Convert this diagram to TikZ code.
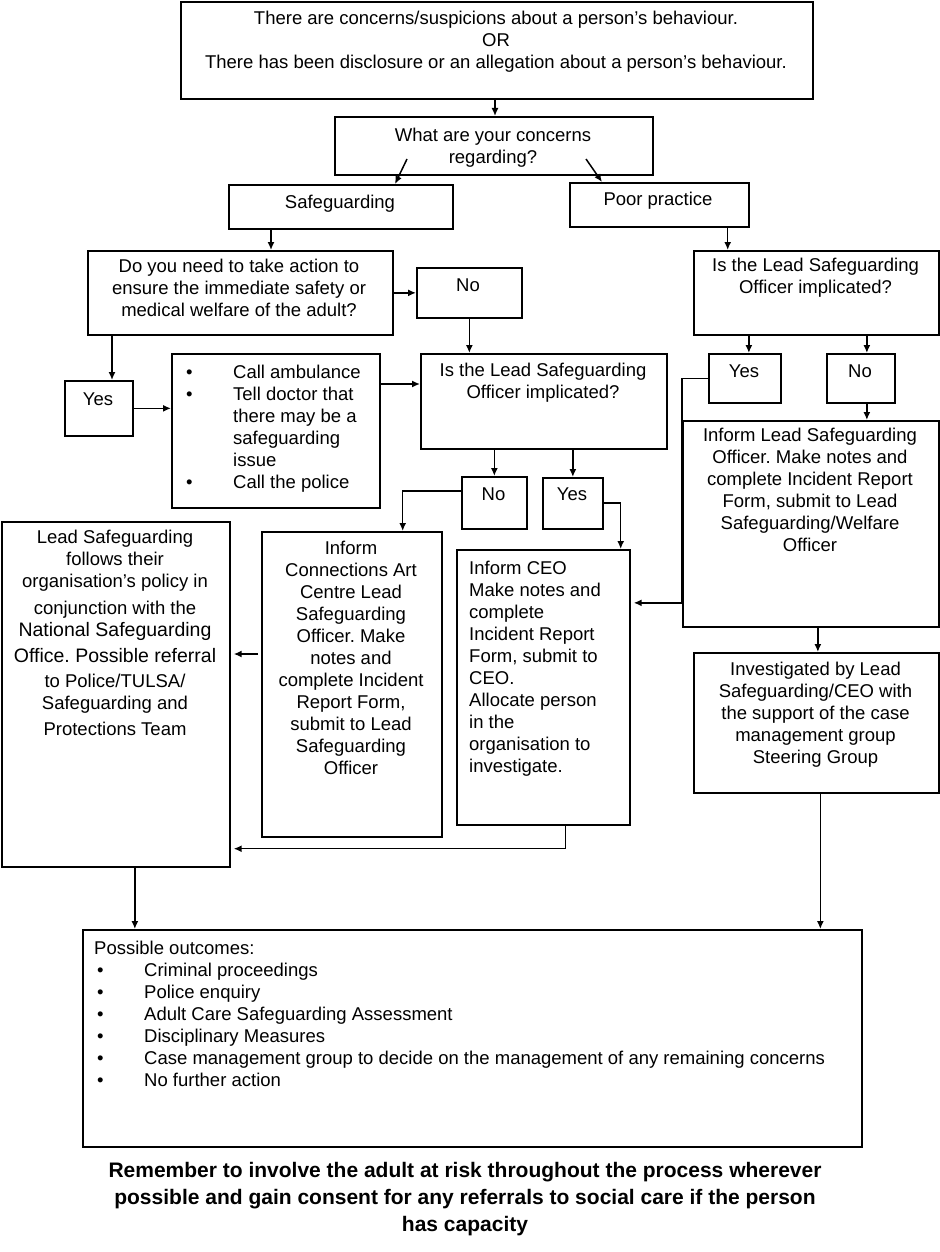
\documentclass[tikz,border=0pt]{standalone}
\usepackage{fontspec}
\setmainfont{Liberation Sans}
\usetikzlibrary{arrows,arrows.meta,positioning}
\frenchspacing

\begin{document}
\begin{tikzpicture}[x=1pt, y=-1pt]
		\tikzstyle{box} = [rectangle, draw, line width=1.7pt, anchor=north west, inner sep=0pt]
		\tikzstyle{txt} = [anchor=north, align=center, inner sep=0pt, font=\fontsize{18.5}{22}\selectfont]
		\tikzstyle{ltxt} = [anchor=north west, align=left, inner sep=0pt, font=\fontsize{18.5}{22}\selectfont]
		\tikzstyle{flow} = [-{Latex[length=8pt,width=7pt]}, line width=1.5pt]
		\newcommand{\bul}{\makebox[47pt][l]{\textbullet}}

		\useasboundingbox (0,0) rectangle (939,1252);

		% Concerns
		\node (start) [box, minimum width=632pt, minimum height=97pt] at (180,1) {};
		\node (startT) [txt] at (496,11) {There are concerns/suspicions about a person’s behaviour.\\OR\\There has been disclosure or an allegation about a person’s behaviour.};
		\node (concern) [box, minimum width=318pt, minimum height=58pt] at (334,116) {};
		\node (concernT) [txt] at (493,128) {What are your concerns\\regarding?};
		\node (safeg) [box, minimum width=224pt, minimum height=44pt] at (228,184) {};
		\node (safegT) [txt] at (340,195) {Safeguarding};
		\node (poor) [box, minimum width=179pt, minimum height=44pt] at (569,182) {};
		\node (poorT) [txt] at (658,192) {Poor practice};

		% Safeguarding branch
		\node (action) [box, minimum width=305pt, minimum height=84pt] at (87,250) {};
		\node (actionT) [txt] at (239,259) {Do you need to take action to\\ensure the immediate safety or\\medical welfare of the adult?};
		\node (noA) [box, minimum width=105pt, minimum height=50pt] at (416,267) {};
		\node (noAT) [txt] at (468,279) {No};
		\node (yesA) [box, minimum width=68pt, minimum height=55pt] at (64,380) {};
		\node (yesAT) [txt] at (98,393) {Yes};
		\node (calls) [box, minimum width=208pt, minimum height=154pt] at (171,353) {};
		\node (callsT) [ltxt] at (186,365) {\bul Call ambulance\\\bul Tell doctor that\\\hspace*{47pt}there may be a\\\hspace*{47pt}safeguarding\\\hspace*{47pt}issue\\\bul Call the police};
		\node (lsoM) [box, minimum width=246pt, minimum height=95pt] at (420,353) {};
		\node (lsoMT) [txt] at (543,363) {Is the Lead Safeguarding\\Officer implicated?};
		\node (noB) [box, minimum width=65pt, minimum height=52pt] at (461,476) {};
		\node (noBT) [txt] at (493.5,488) {No};
		\node (yesB) [box, minimum width=60pt, minimum height=51pt] at (542,477) {};
		\node (yesBT) [txt] at (572,488) {Yes};
		\node (lead) [box, minimum width=228pt, minimum height=345pt] at (1,521) {};
		\node (leadT) [txt] at (115,530) {Lead Safeguarding\\follows their\\organisation’s policy in\\[5pt]conjunction with the\\{\fontsize{19.5}{22}\selectfont National Safeguarding}\\[4pt]{\fontsize{19.5}{22}\selectfont Office. Possible referral}\\[3pt]to Police/TULSA/\\Safeguarding and\\[4pt]Protections Team};
		\node (conn) [box, minimum width=180pt, minimum height=305pt] at (261,531) {};
		\node (connT) [txt] at (351,541) {Inform\\Connections Art\\Centre Lead\\Safeguarding\\Officer. Make\\notes and\\complete Incident\\Report Form,\\submit to Lead\\Safeguarding\\Officer};
		\node (ceo) [box, minimum width=173pt, minimum height=275pt] at (456,549) {};
		\node (ceoT) [ltxt] at (469,561) {Inform CEO\\Make notes and\\complete\\Incident Report\\Form, submit to\\CEO.\\Allocate person\\in the\\organisation to\\investigate.};

		% Poor practice branch
		\node (lsoR) [box, minimum width=245pt, minimum height=84pt] at (693,250) {};
		\node (lsoRT) [txt] at (815.5,258) {Is the Lead Safeguarding\\Officer implicated?};
		\node (yesR) [box, minimum width=72pt, minimum height=49pt] at (708,353) {};
		\node (yesRT) [txt] at (744,365) {Yes};
		\node (noR) [box, minimum width=68pt, minimum height=49pt] at (826,353) {};
		\node (noRT) [txt] at (860,365) {No};
		\node (inform) [box, minimum width=256pt, minimum height=206pt] at (682,420) {};
		\node (informT) [txt] at (810,428) {Inform Lead Safeguarding\\Officer. Make notes and\\complete Incident Report\\Form, submit to Lead\\Safeguarding/Welfare\\Officer};
		\node (invest) [box, minimum width=245pt, minimum height=140pt] at (693,652) {};
		\node (investT) [txt] at (815.5,662) {Investigated by Lead\\Safeguarding/CEO with\\the support of the case\\management group\\Steering Group};

		% Outcomes
		\node (outc) [box, minimum width=779pt, minimum height=217pt] at (82,929) {};
		\node (outcT) [ltxt] at (94,941) {Possible outcomes:\\\hspace*{3pt}\makebox[47pt][l]{\textbullet}Criminal proceedings\\\hspace*{3pt}\makebox[47pt][l]{\textbullet}Police enquiry\\\hspace*{3pt}\makebox[47pt][l]{\textbullet}Adult Care Safeguarding Assessment\\\hspace*{3pt}\makebox[47pt][l]{\textbullet}Disciplinary Measures\\\hspace*{3pt}\makebox[47pt][l]{\textbullet}Case management group to decide on the management of any remaining concerns\\\hspace*{3pt}\makebox[47pt][l]{\textbullet}No further action};
		\node (remind) [anchor=north, align=center, inner sep=0pt, font=\bfseries\fontsize{21}{27}\selectfont] at (465,1162) {Remember to involve the adult at risk throughout the process wherever\\possible and gain consent for any referrals to social care if the person\\has capacity};

		% Connectors
		\coordinate (sT) at (495,0);
		\draw[flow] (start.south -| sT) -- (sT |- concern.north);
		\coordinate (cL) at (407,159);
		\coordinate (cR) at (586,159);
		\coordinate (sL) at (395,0);
		\coordinate (pL) at (602,0);
		\draw[flow] (cL) -- (sL |- safeg.north);
		\draw[flow] (cR) -- (pL |- poor.north);
		\draw[flow] ([xshift=43pt]safeg.south west) -- ([xshift=43pt]safeg.south west |- action.north);
		\draw[flow] ([xshift=-22pt]poor.south east) -- ([xshift=-22pt]poor.south east |- lsoR.north);
		\draw[flow] (action.east) -- (noA.west);
		\draw[flow] ([xshift=25pt]action.south west) -- ([xshift=25pt]action.south west |- yesA.north);
		\draw[flow] (yesA.east) -- (yesA.east -| calls.west);
		\draw[flow] (noA.south) -- (noA.south |- lsoM.north);
		\draw[flow] ([yshift=-31pt]calls.north east) -- ([yshift=-31pt]calls.north east -| lsoM.west);
		\draw[flow] (noB.north |- lsoM.south) -- (noB.north);
		\draw[flow] (yesB.north |- lsoM.south) -- (yesB.north);
		\draw[flow] ([yshift=-15pt]noB.north west) -| ([xshift=-40pt]conn.north east);
		\draw[flow] ([yshift=-26pt]yesB.north east) -| ([xshift=-10pt]ceo.north east);
		\draw[flow, shorten <=3pt, shorten >=3pt] ([yshift=-123pt]conn.north west) -- ([yshift=-123pt]conn.north west -| lead.east);
		\draw[flow, shorten >=3pt] ([xshift=-65pt]ceo.south east) |- ([yshift=19pt]lead.south east);
		\draw[flow] ([xshift=4pt]yesR.north |- lsoR.south) -- ([xshift=4pt]yesR.north);
		\draw[flow] ([xshift=6pt]noR.north |- lsoR.south) -- ([xshift=6pt]noR.north);
		\draw[flow] ([xshift=6pt]noR.south) -- ([xshift=6pt]noR.south |- inform.north);
		\draw[flow, shorten >=3pt] (yesR.west) -| ([yshift=-79pt]inform.west) coordinate (j) -- (j -| ceo.east);
		\draw[flow] ([xshift=7pt]inform.south) -- ([xshift=7pt]inform.south |- invest.north);
		\draw[flow] ([xshift=4pt]invest.south) -- ([xshift=4pt]invest.south |- outc.north);
		\draw[flow] ([xshift=19pt]lead.south) -- ([xshift=19pt]lead.south |- outc.north);
	\end{tikzpicture}
\end{document}
